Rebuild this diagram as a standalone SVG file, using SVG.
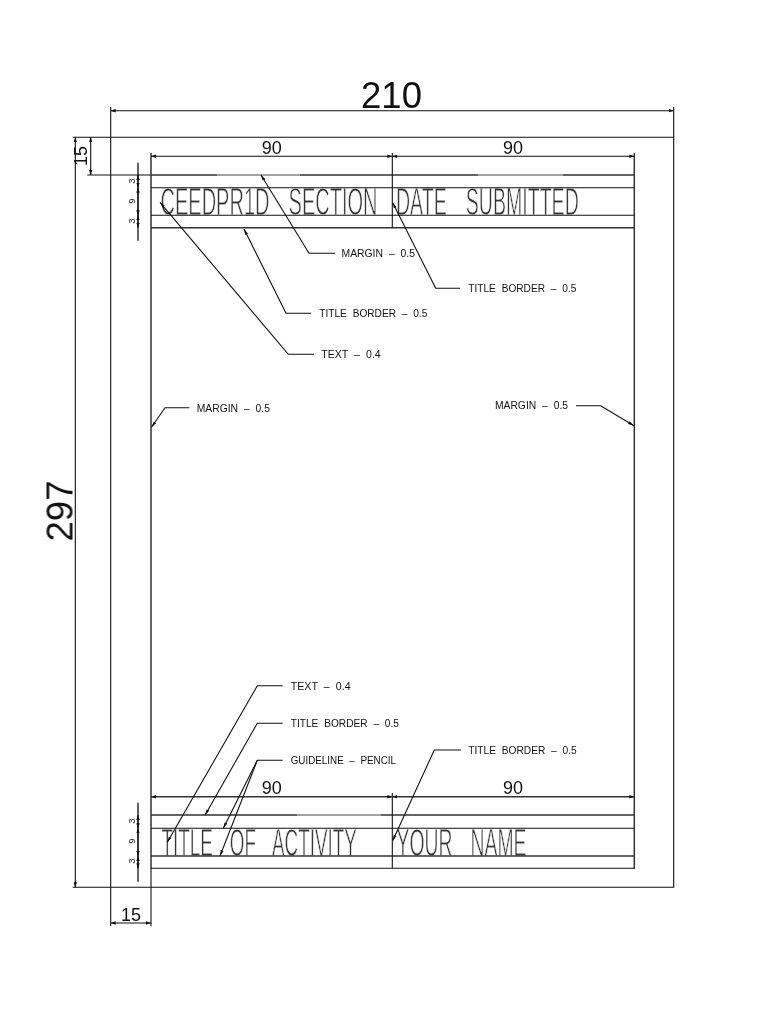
<svg xmlns="http://www.w3.org/2000/svg" width="768" height="1024" viewBox="0 0 768 1024">
<style>
text{font-family:"Liberation Sans",Arial,sans-serif;fill:#111}
.dim{font-size:18px;text-anchor:middle}
.big{font-size:36.5px;text-anchor:middle}
.tiny{font-size:9.5px;text-anchor:middle;fill:#222}
.lab{font-size:10.2px;word-spacing:3px;fill:#111}
.title{font-size:38.5px;fill:#333;stroke:#fff;stroke-width:.8px}
.thin{stroke:#111;stroke-width:1.1;fill:none}
.mid{stroke:#333;stroke-width:1.5;fill:none}
.lead{stroke:#111;stroke-width:1.1;fill:none;marker-end:url(#ar)}
.dl{stroke:#111;stroke-width:1.1;fill:none;marker-start:url(#dr);marker-end:url(#dr)}
.fade{stroke:#bbb;stroke-width:1.5;fill:none}
</style>
<defs>
<marker id="ar" markerUnits="userSpaceOnUse" markerWidth="8" markerHeight="6" refX="6" refY="3" orient="auto"><path d="M0 1.5L6 3L0 4.5Z" fill="#111"/></marker>
<marker id="dr" markerUnits="userSpaceOnUse" markerWidth="8" markerHeight="6" refX="5" refY="3" orient="auto-start-reverse"><path d="M0 1.3L5 3L0 4.7Z" fill="#111"/></marker>
</defs>
<rect width="768" height="1024" fill="#fff"/>
<g id="title-text" opacity="0.99">
<text class="title" style="word-spacing:26px" transform="translate(160.5 215.3) scale(.52 1)">CEEDPR1D SECTION</text>
<text class="title" style="word-spacing:27px" transform="translate(396 215.3) scale(.508 1)">DATE SUBMITTED</text>
<text class="title" style="word-spacing:24px" transform="translate(161.5 856) scale(.49 1)">TITLE OF ACTIVITY</text>
<text class="title" style="word-spacing:25px" transform="translate(396.5 856) scale(.5035 1)">YOUR NAME</text>
</g>
<g id="sheet">
<path class="thin" d="M110.7 137.3H673.7V887.3H110.7Z"/>
<path class="thin" d="M110.7 107V137.3M673.7 107V137.3M72.7 137.3H110.7M72.7 887.3H110.7M87.3 175H151M110.7 887.3V926M151 869V926"/>
</g>
<g id="margin">
<path class="mid" d="M151 153V869M634.3 153V869M151 175H634.3M151 815H634.3M151 227.7H634.3M151 856H634.3"/>
<path class="thin" d="M151 187.7H634.3M151 215.3H634.3M151 828.3H634.3M151 868.3H634.3M392.3 153V227.7M392.3 793V868.3"/>
<path class="fade" d="M217 175H300M478 175H563M297 815H381"/>
</g>
<g id="connectors">
<path class="dl" d="M110.7 110.7H673.7"/>
<path class="dl" d="M75.3 137.3V887.3"/>
<path class="dl" d="M90.7 137.3V175"/>
<path class="dl" d="M151 156.3H392.3"/>
<path class="dl" d="M392.3 156.3H634.3"/>
<path class="dl" style="stroke-width:1.6;stroke:#333" d="M151 796.7H392.3"/>
<path class="dl" style="stroke-width:1.6;stroke:#333" d="M392.3 796.7H634.3"/>
<path class="dl" d="M110.7 923H151"/>
<path class="thin" style="stroke-width:1.3" d="M138 162.7V240.7M138 802.7V881.7"/>
<path class="dl" d="M138 175V187.7"/><path class="dl" d="M138 215.3V227.7"/><path class="dl" d="M138 187.7V215.3"/>
<path class="dl" d="M138 815V828.3"/><path class="dl" d="M138 856V868.3"/><path class="dl" d="M138 828.3V856"/>
<path class="lead" d="M335 253.3H309L261 175"/>
<path class="lead" d="M311 313.3H286L244 229"/>
<path class="lead" d="M314 354.3H288.3L160 202.3"/>
<path class="lead" d="M189.3 407.7H165L151.5 427.3"/>
<path class="lead" d="M460 288.3H435.7L392.7 202.7"/>
<path class="lead" d="M576 405.7H600.7L634 425.7"/>
<path class="lead" d="M282.7 685.7H257.3L167.3 842.3"/>
<path class="lead" d="M282.7 723.3H257.3L205 815.3"/>
<path class="lead" d="M282.7 760.3H257.3L223.3 828.3"/>
<path class="lead" d="M257.3 760.3L220 856"/>
<path class="lead" d="M461 750H434.3L392.7 840.7"/>
</g>
<g id="dimensions">
<text class="big" x="391.5" y="108">210</text>
<text class="big" transform="translate(72.5 511) rotate(-90)">297</text>
<text class="dim" transform="translate(87.3 156) rotate(-90)">15</text>
<text class="dim" x="271.7" y="154">90</text>
<text class="dim" x="513" y="154">90</text>
<text class="dim" x="271.7" y="794.3">90</text>
<text class="dim" x="513" y="794.3">90</text>
<text class="dim" x="131" y="921">15</text>
<text class="tiny" transform="translate(135 181) rotate(-90)">3</text>
<text class="tiny" transform="translate(135 201) rotate(-90)">9</text>
<text class="tiny" transform="translate(135 221) rotate(-90)">3</text>
<text class="tiny" transform="translate(135 821) rotate(-90)">3</text>
<text class="tiny" transform="translate(135 841) rotate(-90)">9</text>
<text class="tiny" transform="translate(135 861) rotate(-90)">3</text>
</g>
<g id="label-margin-top"><text class="lab" x="341.5" y="257" textLength="73.5" lengthAdjust="spacingAndGlyphs">MARGIN – 0.5</text></g>
<g id="label-border-top-right"><text class="lab" x="468.3" y="292" textLength="108" lengthAdjust="spacingAndGlyphs">TITLE BORDER – 0.5</text></g>
<g id="label-border-top-left"><text class="lab" x="319.3" y="317.3" textLength="108" lengthAdjust="spacingAndGlyphs">TITLE BORDER – 0.5</text></g>
<g id="label-text-top"><text class="lab" x="321.3" y="358.3" textLength="59.4" lengthAdjust="spacingAndGlyphs">TEXT – 0.4</text></g>
<g id="label-margin-left"><text class="lab" x="196.7" y="411.7" textLength="73.3" lengthAdjust="spacingAndGlyphs">MARGIN – 0.5</text></g>
<g id="label-margin-right"><text class="lab" x="495" y="409.3" textLength="73" lengthAdjust="spacingAndGlyphs">MARGIN – 0.5</text></g>
<g id="label-text-bottom"><text class="lab" x="290.7" y="690.3" textLength="60" lengthAdjust="spacingAndGlyphs">TEXT – 0.4</text></g>
<g id="label-border-bottom-left"><text class="lab" x="290.7" y="727" textLength="108.3" lengthAdjust="spacingAndGlyphs">TITLE BORDER – 0.5</text></g>
<g id="label-guideline"><text class="lab" x="290.7" y="764.3" textLength="105.3" lengthAdjust="spacingAndGlyphs">GUIDELINE – PENCIL</text></g>
<g id="label-border-bottom-right"><text class="lab" x="468.3" y="754" textLength="108.4" lengthAdjust="spacingAndGlyphs">TITLE BORDER – 0.5</text></g>
</svg>
